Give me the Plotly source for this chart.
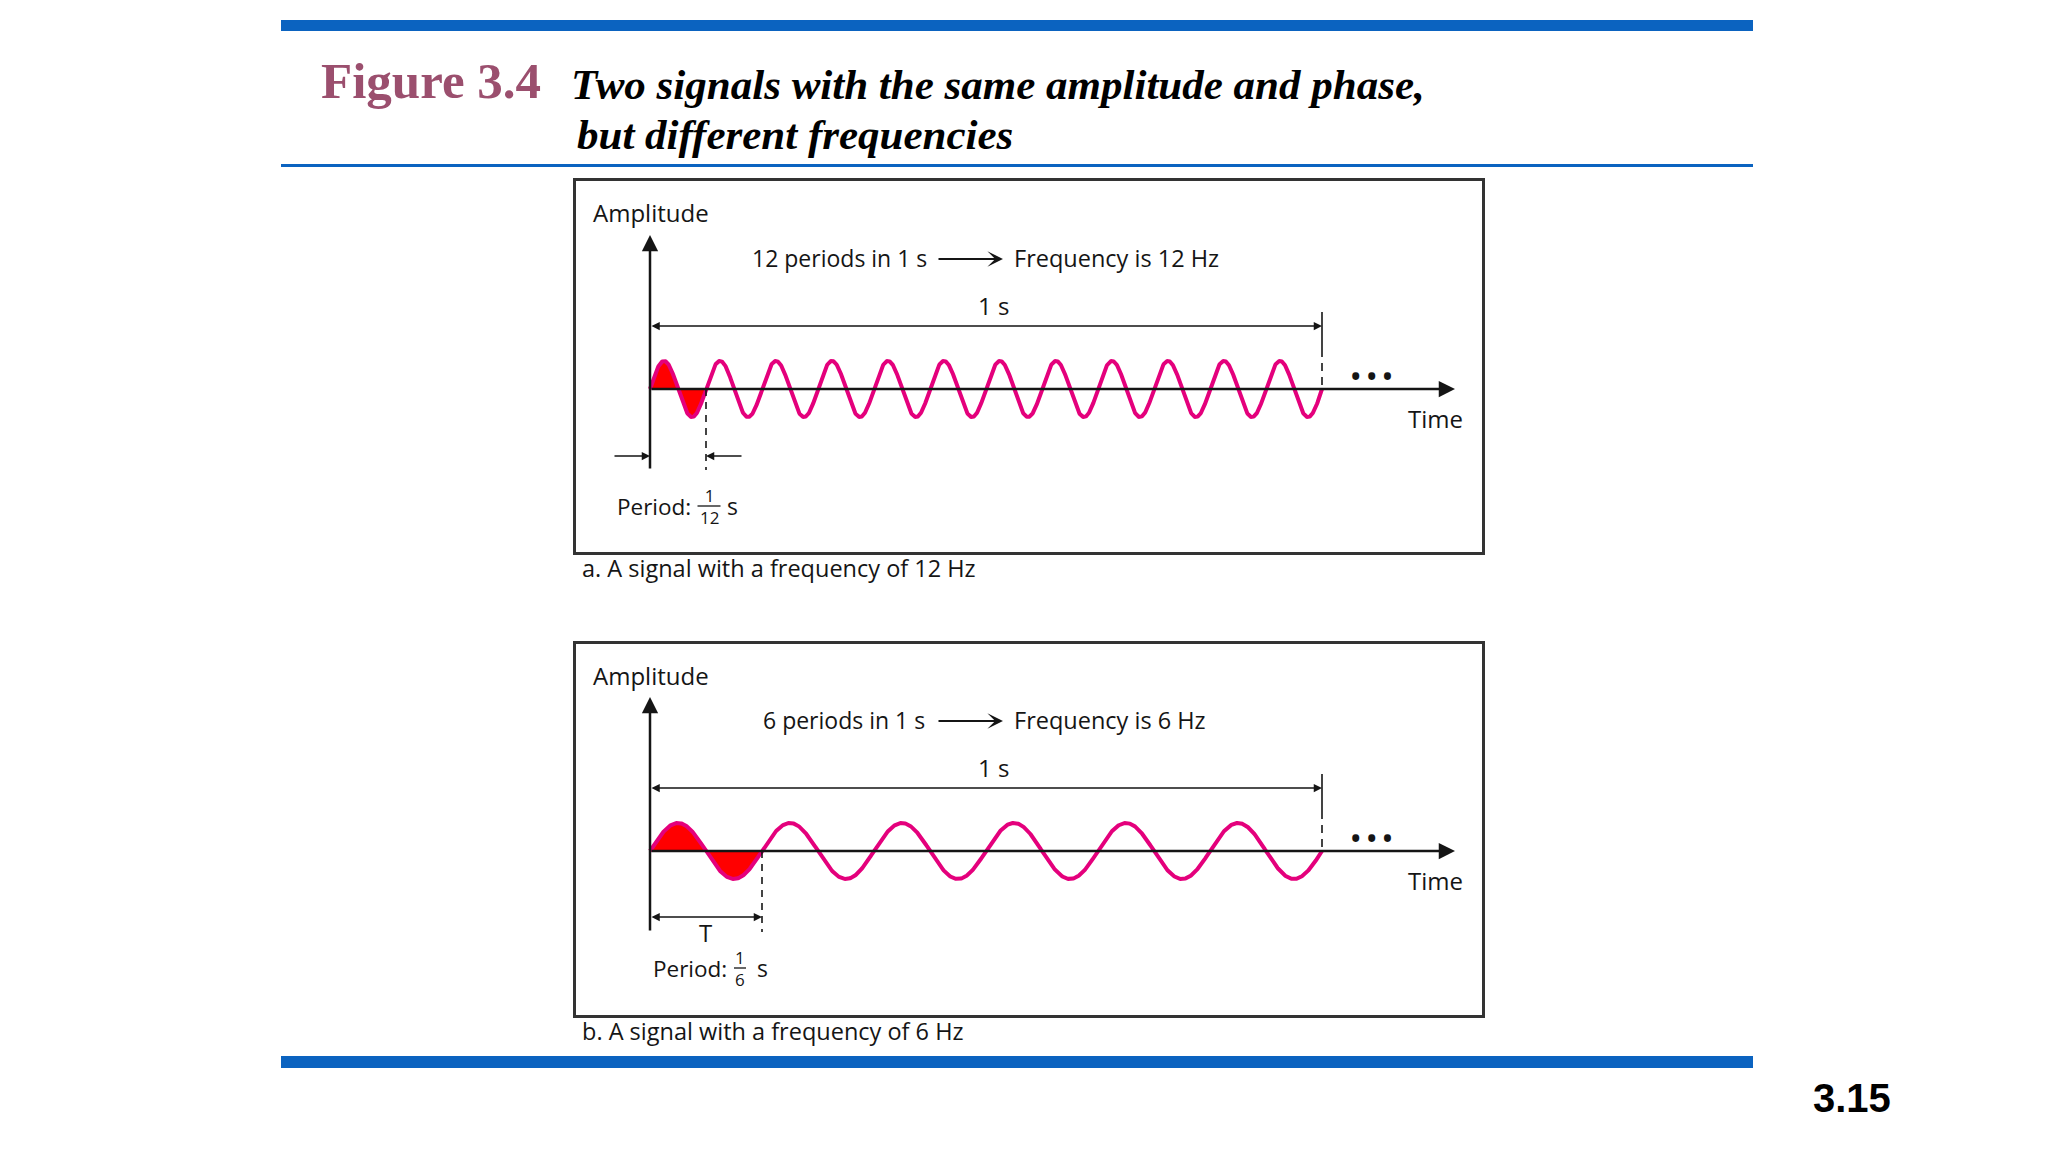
import numpy as np
import plotly.graph_objects as go

# --- values shown in the figure ---
FREQUENCIES_HZ = [12, 6]
DURATION_S = 1.0
AMPLITUDE = 1.0
PANEL_TAGS = ["a", "b"]
PERIOD_DENOMS = ["12", "6"]

# --- page geometry (pixels of a 2048x1152 slide) ---
FIG_W, FIG_H = 2048, 1152
OFF = 8              # the page body margin shifts the plot by this much
ORIGIN_PX = 650      # x pixel of t = 0
PX_PER_S = 672       # horizontal scale of both panels
PX_PER_AMP = 28      # vertical scale of both panels
BOX_LEFT, BOX_RIGHT = 575.5, 1481.5
PANELS = [(181, 551.5, 389), (643.5, 1014.5, 851)]  # box top, box bottom, time axis row

BLUE = "#0b63c0"
WAVE = "#e4007c"
FILL = "#ff0000"
INK = "#151515"
SANS = "Open Sans"
SERIF = "Liberation Serif"
# baseline -> middle of text box, per font (fraction of font size)
MID = {SANS: 0.39, SERIF: 0.34, "Liberation Sans": 0.35}


def fx_(px):
    return (px - OFF) / FIG_W


def fy_(py):
    return 1 - (py - OFF) / FIG_H


fig = go.Figure()


def text_px(txt, x, base, size, anchor="left", family=SANS, color=INK, weight="normal", style="normal"):
    if anchor == "left":
        x -= 2  # annotation padding
    fig.add_annotation(
        x=fx_(x), y=fy_(base - MID[family] * size),
        xref="paper", yref="paper", text=txt, showarrow=False,
        xanchor=anchor, yanchor="middle",
        font=dict(family=family, size=size, color=color, weight=weight, style=style),
    )


def hbar(y0, y1, x0=281, x1=1753, color=BLUE):
    fig.add_shape(type="rect", xref="paper", yref="paper",
                  x0=fx_(x0), x1=fx_(x1), y0=fy_(y0), y1=fy_(y1),
                  line_width=0, fillcolor=color)


for i, (freq, (top, bottom, row)) in enumerate(zip(FREQUENCIES_HZ, PANELS)):
    n = "" if i == 0 else str(i + 1)
    xr, yr = f"x{n}", f"y{n}"
    period = 1 / freq

    def tx(px):
        return (px - ORIGIN_PX) / PX_PER_S

    def ay(py, row=row):
        return (row - py) / PX_PER_AMP

    fig.update_layout({
        f"xaxis{n}": dict(
            domain=[fx_(BOX_LEFT), fx_(BOX_RIGHT)],
            range=[tx(BOX_LEFT), tx(BOX_RIGHT)], anchor=yr,
            showgrid=False, zeroline=False, showticklabels=False, ticks="",
            showline=True, mirror=True, linecolor="#333333", linewidth=2.5,
        ),
        f"yaxis{n}": dict(
            domain=[fy_(bottom), fy_(top)],
            range=[ay(bottom), ay(top)], anchor=xr,
            showgrid=False, zeroline=False, showticklabels=False, ticks="",
            showline=True, mirror=True, linecolor="#333333", linewidth=2.5,
        ),
    })

    # signal: one full second, first period shaded
    t = np.linspace(0, DURATION_S, 1500)
    s = AMPLITUDE * np.sin(2 * np.pi * freq * t)
    first = t <= period + 1e-9
    fig.add_trace(go.Scatter(x=t[first], y=s[first], xaxis=xr, yaxis=yr, mode="lines",
                             fill="tozeroy", fillcolor=FILL, line=dict(width=0),
                             hoverinfo="skip", showlegend=False))
    fig.add_trace(go.Scatter(x=t, y=s, xaxis=xr, yaxis=yr, mode="lines",
                             line=dict(color=WAVE, width=4), hoverinfo="skip", showlegend=False))

    def arrow(x0, y0, x1, y1, width=1.5, size=1.0, head=2, both=False):
        fig.add_annotation(x=x1, y=y1, ax=x0, ay=y0, xref=xr, yref=yr, axref=xr, ayref=yr,
                           text="", showarrow=True, arrowhead=head, arrowsize=size,
                           arrowwidth=width, arrowcolor=INK, standoff=0, startstandoff=0,
                           arrowside="end+start" if both else "end",
                           startarrowhead=head, startarrowsize=size)

    def vline(x, y0, y1, dash="solid"):
        fig.add_shape(type="line", xref=xr, yref=yr, x0=x, x1=x, y0=y0, y1=y1,
                      line=dict(color=INK, width=1.6, dash=dash))

    # axes
    arrow(0, ay(row + 81), 0, ay(row - 154), width=2.5, size=1.3, head=2)
    arrow(0, 0, tx(1455), 0, width=2.5, size=1.3, head=2)
    # 1 s span
    arrow(0, ay(row - 63), DURATION_S, ay(row - 63), width=1.5, size=1.1, head=2, both=True)
    vline(DURATION_S, ay(row - 77), ay(row - 40))
    vline(DURATION_S, ay(row - 40), 0, dash="8px,6px")
    # "N periods in 1 s --> Frequency"
    arrow(tx(937), ay(row - 130), tx(1003), ay(row - 130), width=2, size=1.3, head=3)
    # period marker
    vline(period, 0, ay(row + 81), dash="7px,6px")
    if i == 0:
        arrow(tx(613), ay(row + 67), 0, ay(row + 67), width=1.5, size=1.1, head=2)
        arrow(tx(743), ay(row + 67), period, ay(row + 67), width=1.5, size=1.1, head=2)
    else:
        arrow(0, ay(row + 66), period, ay(row + 66), width=1.5, size=1.1, head=2, both=True)

    # texts
    text_px("Amplitude", 593, top + 41, 24)
    text_px(f"{freq} periods in 1 s", 763 if freq < 10 else 752, row - 122, 23)
    text_px(f"Frequency is {freq} Hz", 1014, row - 122, 23.5)
    text_px("1 s", 993, row - 74, 24, anchor="center")
    text_px("Time", 1408, row + 39, 24)
    text_px("\u2022 \u2022 \u2022", 1371, row - 4, 25, anchor="center", weight="bold")
    text_px(f"{PANEL_TAGS[i]}. A signal with a frequency of {freq} Hz", 582, bottom + 26, 23.5)

    if i == 0:
        px, fx, half, sx, fbase = 617, 709, 11.5, 727, row + 126
    else:
        text_px("T", 705, row + 91, 24, anchor="center")
        px, fx, half, sx, fbase = 653, 740, 6, 757, row + 126
    text_px("Period:", px, fbase, 22.5)
    # stacked fraction 1 / N, centred on its bar
    bar_y = fbase - 9
    fig.add_annotation(x=fx_(fx), y=fy_(bar_y), xref="paper", yref="paper",
                       text=f"1<br>{PERIOD_DENOMS[i]}", showarrow=False,
                       xanchor="center", yanchor="middle", align="center",
                       font=dict(family=SANS, size=17, color=INK))
    fig.add_shape(type="line", xref="paper", yref="paper",
                  x0=fx_(fx - half), x1=fx_(fx + half), y0=fy_(bar_y), y1=fy_(bar_y),
                  line=dict(color=INK, width=1.3))
    text_px("s", sx, fbase, 23)

# slide decoration
hbar(20, 31)
hbar(164, 167)
hbar(1056, 1068)

text_px("Figure 3.4", 321, 98, 51, family=SERIF, color="#9b4f6e", weight="bold")
text_px("Two signals with the same amplitude and phase,", 571, 99, 43,
        family=SERIF, color="#000000", weight="bold", style="italic")
text_px("but different frequencies", 577, 149, 43,
        family=SERIF, color="#000000", weight="bold", style="italic")
text_px("3.15", 1852, 1112, 40, anchor="center", family="Liberation Sans",
        color="#000000", weight="bold")

fig.update_layout(
    width=FIG_W, height=FIG_H,
    margin=dict(l=0, r=0, t=0, b=0),
    paper_bgcolor="white", plot_bgcolor="white",
    showlegend=False,
)

fig.write_html("out.html")
